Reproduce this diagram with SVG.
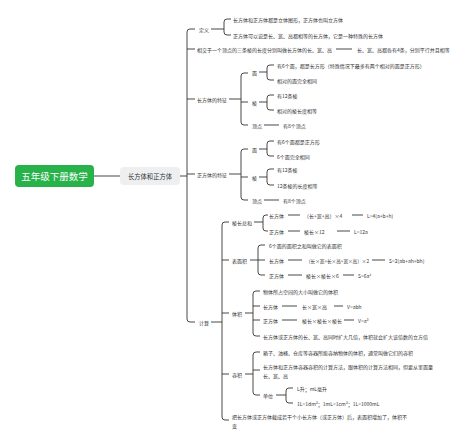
<svg xmlns="http://www.w3.org/2000/svg" width="474" height="444" viewBox="0 0 474 444">
<style>
.t{font-family:"Noto Sans CJK SC","Noto Sans",sans-serif;font-size:5px;fill:#333;dominant-baseline:central}
.c{fill:none;stroke:#333;stroke-width:0.9}
</style>
<rect width="474" height="444" fill="#fff"/>
<g id="connectors" class="c">
<path d="M94,176H120M180,176H187"/>
<path d="M195,29H190Q187,29 187,32V319Q187,322 190,322H195M187,49H195M187,99H195M187,174H195"/>
<path d="M211,29H224M231,19H227Q224,19 224,22V32Q224,35 227,35H231"/>
<path d="M336,49H352"/>
<path d="M229,99H241M248,73H244Q241,73 241,76V122Q241,125 244,125H248M241,102H248"/>
<path d="M259,72H267M274,65H270Q267,65 267,68V77Q267,80 270,80H274"/>
<path d="M259,102H267M274,95H270Q267,95 267,98V107Q267,110 270,110H274"/>
<path d="M264,125H279"/>
<path d="M229,174H241M248,149H244Q241,149 241,152V197Q241,200 244,200H248M241,177H248"/>
<path d="M259,149H267M274,141H270Q267,141 267,144V153Q267,156 270,156H274"/>
<path d="M259,177H267M274,169H270Q267,169 267,172V182Q267,185 270,185H274"/>
<path d="M264,200H279"/>
<path d="M211,322H222M229,222H225Q222,222 222,225V417Q222,420 225,420H229M222,260H229M222,313H229M222,374H229"/>
<path d="M254,222H263M268,215H266Q263,215 263,218V228Q263,231 266,231H268"/>
<path d="M288,215H300M352,215H363M288,231H300M337,231H350"/>
<path d="M250,260H258M265,245H261Q258,245 258,248V272Q258,275 261,275H265M258,260H265"/>
<path d="M288,260H302M372,260H385M288,275H302M343,275H354"/>
<path d="M245,313H253M260,291H256Q253,291 253,294V333Q253,336 256,336H260M253,306H260M253,320H260"/>
<path d="M282,306H297M334,306H343M282,320H297M344,320H354"/>
<path d="M245,374H253M260,352H256Q253,352 253,355V392Q253,395 256,395H260M253,370H260"/>
<path d="M276,395H286M293,388H289Q286,388 286,391V400Q286,403 289,403H293"/>
</g>
<g id="root"><rect x="15" y="165" width="79" height="22" rx="4" fill="#27b24a"/><text x="54.5" y="176" class="t" style="font-size:9.5px;fill:#fff" text-anchor="middle">五年级下册数学</text></g>
<g id="main"><rect x="120" y="167" width="60" height="18" rx="4" fill="#eeeff1"/><text x="150" y="176" class="t" style="font-size:6.3px" text-anchor="middle">长方体和正方体</text></g>
<g id="def"><text x="199" y="29" class="t">定义</text></g>
<g id="def1"><text x="233" y="19" class="t">长方体和正方体都是立体图形，正方体也叫立方体</text></g>
<g id="def2"><text x="233" y="35" class="t">正方体可以说是长、宽、高都相等的长方体，它是一种特殊的长方体</text></g>
<g id="lwh"><text x="197" y="49" class="t">相交于一个顶点的三条棱的长度分别叫做长方体的长、宽、高</text></g>
<g id="lwh2"><text x="357" y="49" class="t">长、宽、高都各有4条，分别平行并且相等</text></g>
<g id="cft"><text x="197" y="99" class="t">长方体的特征</text></g>
<g id="cft-m"><text x="252" y="72" class="t">面</text></g>
<g id="cft-m1"><text x="277" y="65" class="t">有6个面，都是长方形（特殊情况下最多有两个相对的面是正方形）</text></g>
<g id="cft-m2"><text x="277" y="80" class="t">相对的面完全相同</text></g>
<g id="cft-l"><text x="252" y="102" class="t">棱</text></g>
<g id="cft-l1"><text x="277" y="95" class="t">有12条棱</text></g>
<g id="cft-l2"><text x="277" y="110" class="t">相对的棱长度相等</text></g>
<g id="cft-d"><text x="252" y="125" class="t">顶点</text></g>
<g id="cft-d1"><text x="283" y="125" class="t">有8个顶点</text></g>
<g id="zft"><text x="197" y="174" class="t">正方体的特征</text></g>
<g id="zft-m"><text x="252" y="149" class="t">面</text></g>
<g id="zft-m1"><text x="277" y="141" class="t">有6个面都是正方形</text></g>
<g id="zft-m2"><text x="277" y="156" class="t">6个面完全相同</text></g>
<g id="zft-l"><text x="252" y="177" class="t">棱</text></g>
<g id="zft-l1"><text x="277" y="169" class="t">有12条棱</text></g>
<g id="zft-l2"><text x="277" y="185" class="t">12条棱的长度相等</text></g>
<g id="zft-d"><text x="252" y="200" class="t">顶点</text></g>
<g id="zft-d1"><text x="283" y="200" class="t">有8个顶点</text></g>
<g id="calc"><text x="199" y="322" class="t">计算</text></g>
<g id="edge"><text x="232" y="222" class="t">棱长总和</text></g>
<g id="edge-c"><text x="269" y="215" class="t">长方体</text><text x="304" y="215" class="t">（长+宽+高）×4</text><text x="367" y="215" class="t">L=4(a+b+h)</text></g>
<g id="edge-z"><text x="269" y="231" class="t">正方体</text><text x="304" y="231" class="t">棱长×12</text><text x="354" y="231" class="t">L=12a</text></g>
<g id="area"><text x="232" y="260" class="t">表面积</text></g>
<g id="area-d"><text x="269" y="245" class="t">6个面的面积之和叫做它的表面积</text></g>
<g id="area-c"><text x="269" y="260" class="t">长方体</text><text x="306" y="260" class="t" textLength="63" lengthAdjust="spacingAndGlyphs">（长×宽+长×高+宽×高）×2</text><text x="389" y="260" class="t">S=2(ab+ah+bh)</text></g>
<g id="area-z"><text x="269" y="275" class="t">正方体</text><text x="306" y="275" class="t">棱长×棱长×6</text><text x="358" y="275" class="t">S=6a²</text></g>
<g id="vol"><text x="232" y="313" class="t">体积</text></g>
<g id="vol-d"><text x="263" y="291" class="t">物体所占空间的大小叫做它的体积</text></g>
<g id="vol-c"><text x="263" y="306" class="t">长方体</text><text x="302" y="306" class="t">长×宽×高</text><text x="347" y="306" class="t">V=abh</text></g>
<g id="vol-z"><text x="263" y="320" class="t">正方体</text><text x="302" y="320" class="t">棱长×棱长×棱长</text><text x="358" y="320" class="t">V=a³</text></g>
<g id="vol-e"><text x="263" y="336" class="t">长方体或正方体的长、宽、高同时扩大几倍，体积就会扩大该倍数的立方倍</text></g>
<g id="cap"><text x="232" y="374" class="t">容积</text></g>
<g id="cap-d"><text x="263" y="352" class="t">箱子、油桶、仓库等容器所能容纳物体的体积，通常叫做它们的容积</text></g>
<g id="cap-m"><text x="263" y="366" class="t">长方体和正方体容器容积的计算方法，跟体积的计算方法相同，但要从里面量</text><text x="263" y="375" class="t">长、宽、高</text></g>
<g id="unit"><text x="263" y="395" class="t">单位</text></g>
<g id="unit1"><text x="297" y="388" class="t">L升；mL毫升</text></g>
<g id="unit2"><text x="297" y="403" class="t">1L=1dm³；1mL=1cm³；1L=1000mL</text></g>
<g id="cut"><text x="232" y="416" class="t">把长方体或正方体截成若干个小长方体（或正方体）后，表面积增加了，体积不</text><text x="232" y="425" class="t">变</text></g>
</svg>
